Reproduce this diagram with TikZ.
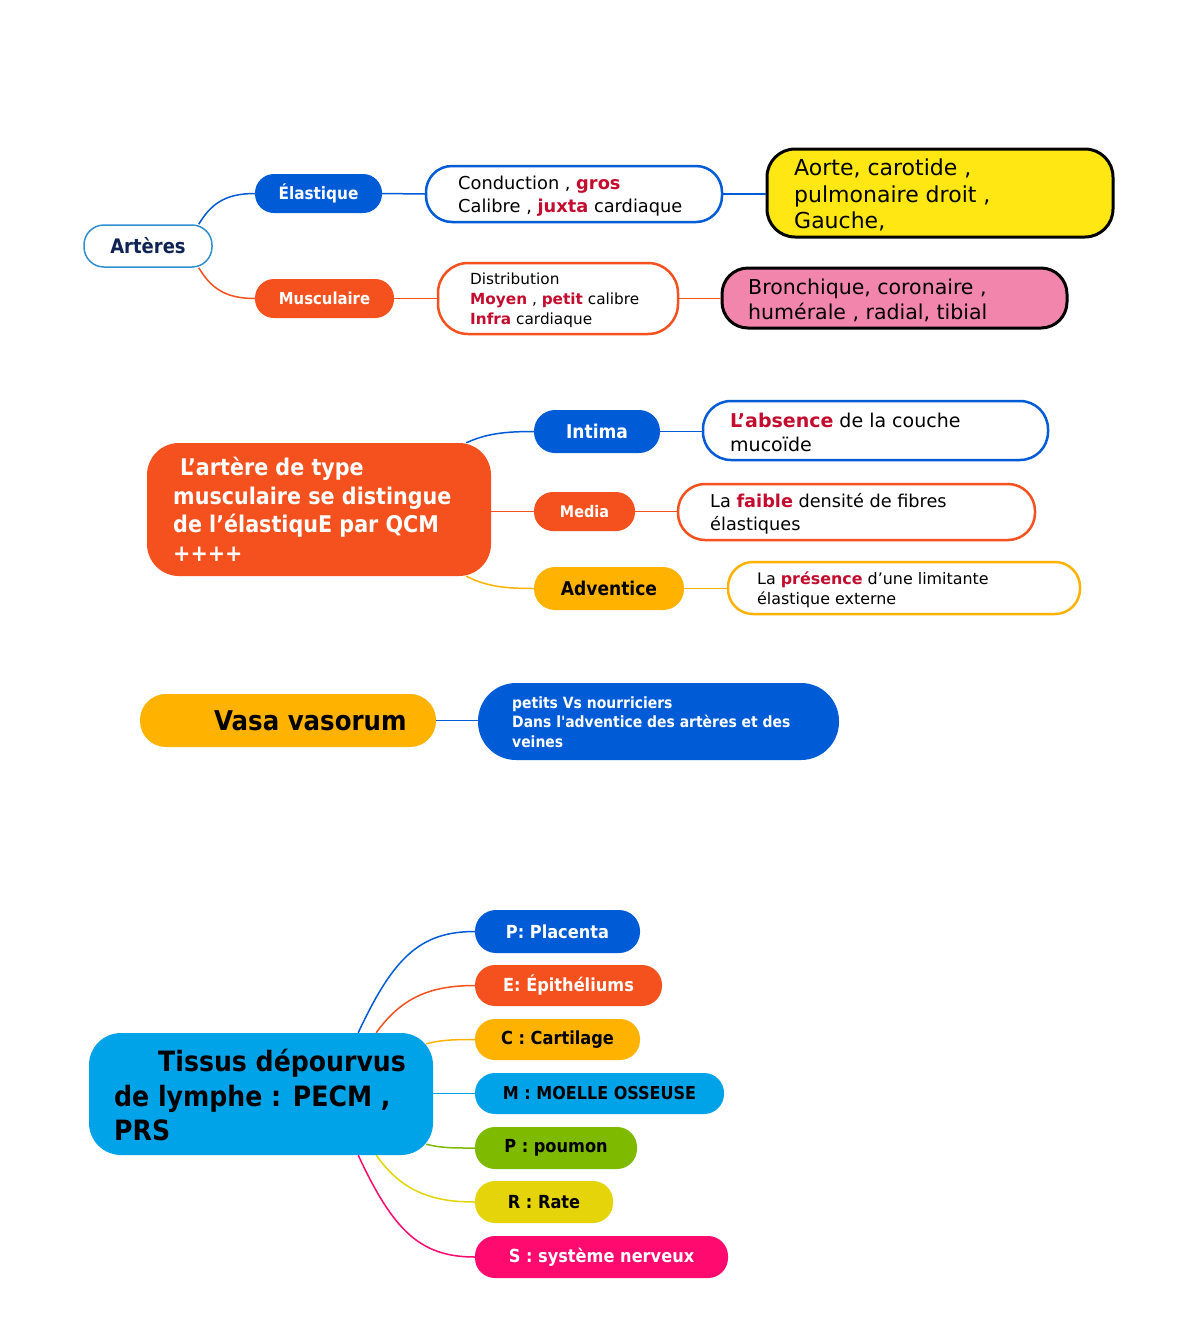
\documentclass[tikz,border=0pt]{standalone}
\usepackage{fontspec}
\setmainfont{DejaVu Sans}
\newfontfamily\cnd{DejaVu Sans Condensed}
\definecolor{cblue}{HTML}{005BD6}
\definecolor{corange}{HTML}{F5511E}
\definecolor{camber}{HTML}{FFB300}
\definecolor{ccyan}{HTML}{00A3E8}
\definecolor{cgreen}{HTML}{7EBA00}
\definecolor{cyel}{HTML}{E6D40A}
\definecolor{cpink}{HTML}{FF0A6E}
\definecolor{byel}{HTML}{FFE714}
\definecolor{bpink}{HTML}{F285AC}
\definecolor{rd}{HTML}{C40C2E}
\definecolor{navy}{HTML}{0F2355}
\definecolor{artb}{HTML}{2F8FD0}
\newcommand\redb[1]{\textcolor{rd}{\bfseries #1}}
\tikzset{
  wb/.style={draw, rectangle, fill=white, rounded corners=20pt, line width=2.5pt, inner sep=0pt},
  pill/.style={rectangle, rounded corners=19pt, inner sep=0pt, font=\cnd\bfseries\fontsize{18}{20}\selectfont},
  tx/.style={anchor=west, align=left, inner sep=0pt},
  conn/.style={line width=1.5pt}
}
\begin{document}
\begin{tikzpicture}[x=1pt,y=-1pt]
\fill[white] (0,0) rectangle (1200,1318);
\useasboundingbox (0,0) rectangle (1200,1318);

% ---------- Section 1
\node[wb, draw=artb, line width=1.5pt, minimum width=128, minimum height=42, text=navy, font=\cnd\bfseries\fontsize{20}{22}\selectfont] (art) at (148,246) {Artères};
\node[pill, fill=cblue, text=white, minimum width=127, minimum height=39, font=\cnd\bfseries\fontsize{17}{20}\selectfont] (ela) at (318.5,193.5) {Élastique};
\node[pill, fill=corange, text=white, minimum width=139, minimum height=39, font=\cnd\bfseries\fontsize{16.5}{20}\selectfont] (mus) at (324.5,298.5) {Musculaire};
\node[wb, draw=cblue, minimum width=296, minimum height=56, rounded corners=26pt] (cond) at (574,194) {};
\node[tx, font=\fontsize{17.8}{23}\selectfont] (tcond) at (458,196.5) {Conduction , \redb{gros}\\Calibre , \redb{juxta} cardiaque};
\node[wb, draw=corange, minimum width=240, minimum height=71, rounded corners=30pt] (dist) at (558,298.5) {};
\node[tx, font=\fontsize{15.3}{20}\selectfont] (tdist) at (470,300) {Distribution\\\redb{Moyen} , \redb{petit} calibre\\\redb{Infra} cardiaque};
\node[wb, draw=black, fill=byel, line width=3pt, minimum width=346, minimum height=88, rounded corners=28pt] (yel) at (940,193) {};
\node[tx, font=\fontsize{22}{26.5}\selectfont] (tyel) at (794,195) {Aorte, carotide ,\\pulmonaire droit ,\\Gauche,};
\node[wb, draw=black, fill=bpink, line width=3pt, minimum width=345, minimum height=60, rounded corners=26pt] (pink) at (894.5,298) {};
\node[tx, font=\fontsize{20.5}{25}\selectfont] (tpink) at (748,300) {Bronchique, coronaire ,\\humérale , radial, tibial};

\draw[conn, cblue] ([xshift=-14]art.north east) .. controls +(12,-20) and +(-30,0) .. (ela.west);
\draw[conn, corange] ([xshift=-14]art.south east) .. controls +(12,20) and +(-30,0) .. (mus.west);
\draw[conn, cblue] (ela.east) -- (cond.west);
\draw[conn, cblue] (cond.east) -- (cond.east -| yel.west);
\draw[conn, corange] (mus.east) -- (dist.west);
\draw[conn, corange] (dist.east) -- (dist.east -| pink.west);

% ---------- Section 2
\node[rectangle, fill=corange, rounded corners=32pt, minimum width=344, minimum height=133] (big) at (319,509.5) {};
\node[tx, text=white, font=\cnd\bfseries\fontsize{23}{28.5}\selectfont] (tbig) at (173,509.5) {\hspace*{7pt}L’artère de type\\musculaire se distingue\\de l’élastiquE par QCM\\++++};
\node[pill, fill=cblue, text=white, minimum width=126, minimum height=43, rounded corners=21pt, font=\cnd\bfseries\fontsize{19}{22}\selectfont] (int) at (597,431.5) {Intima};
\node[pill, fill=corange, text=white, minimum width=101, minimum height=39, font=\cnd\bfseries\fontsize{16}{20}\selectfont] (med) at (584.5,511.5) {Media};
\node[pill, fill=camber, text=black, minimum width=150, minimum height=43, rounded corners=21pt, font=\cnd\bfseries\fontsize{19}{22}\selectfont] (adv) at (609,588.5) {Adventice};
\node[wb, draw=cblue, minimum width=345, minimum height=59, rounded corners=28pt] (abs) at (875.5,430.5) {};
\node[tx, font=\fontsize{19}{24}\selectfont] (tabs) at (730,432) {\redb{L’absence} de la couche\\mucoïde};
\node[wb, draw=corange, minimum width=357, minimum height=56, rounded corners=27pt] (fai) at (856.5,512) {};
\node[tx, font=\fontsize{17.7}{23}\selectfont] (tfai) at (710,514) {La \redb{faible} densité de fibres\\élastiques};
\node[wb, draw=camber, minimum width=352, minimum height=52, rounded corners=25pt] (pre) at (904,588) {};
\node[tx, font=\fontsize{15.9}{20}\selectfont] (tpre) at (757,589.5) {La \redb{présence} d’une limitante\\élastique externe};

\draw[conn, cblue] ([xshift=-25]big.north east) .. controls +(20,-9) and +(-30,0) .. (int.west);
\draw[conn, corange] (big.east |- med.west) -- (med.west);
\draw[conn, camber] ([xshift=-25]big.south east) .. controls +(20,10) and +(-30,0) .. (adv.west);
\draw[conn, cblue] (int.east) -- (int.east -| abs.west);
\draw[conn, corange] (med.east) -- (med.east -| fai.west);
\draw[conn, camber] (adv.east) -- (adv.east -| pre.west);

% ---------- Section 3
\node[rectangle, fill=camber, rounded corners=26pt, minimum width=296, minimum height=53] (vasa) at (288,720.5) {};
\node[tx, font=\cnd\bfseries\fontsize{27.2}{32}\selectfont] (tvasa) at (214,721) {Vasa vasorum};
\node[rectangle, fill=cblue, rounded corners=38pt, minimum width=361, minimum height=77] (vbl) at (658.5,721.5) {};
\node[tx, text=white, font=\cnd\bfseries\fontsize{15.5}{19.5}\selectfont] (tvbl) at (512,722) {petits Vs nourriciers\\Dans l'adventice des artères et des\\veines};
\draw[conn, cblue] (vasa.east) -- (vasa.east -| vbl.west);

% ---------- Section 4
\node[rectangle, fill=ccyan, rounded corners=32pt, minimum width=344, minimum height=122] (tis) at (261,1094) {};
\node[tx, font=\cnd\bfseries\fontsize{28}{34.5}\selectfont] (ttis) at (114,1095) {\hspace*{44pt}Tissus dépourvus\\de lymphe : PECM ,\\PRS};
\node[pill, fill=cblue, text=white, minimum width=165, minimum height=43, rounded corners=21pt] (pl) at (557.5,931.5) {P: Placenta};
\node[pill, fill=corange, text=white, minimum width=187, minimum height=41, rounded corners=20pt] (ep) at (568.5,985.5) {E: Épithéliums};
\node[pill, fill=camber, text=black, minimum width=165, minimum height=41, rounded corners=20pt] (ca) at (557.5,1039.5) {C : Cartilage};
\node[pill, fill=ccyan, text=black, minimum width=249, minimum height=41, rounded corners=20pt, font=\cnd\bfseries\fontsize{17.8}{20}\selectfont] (mo) at (599.5,1093.5) {M : MOELLE OSSEUSE};
\node[pill, fill=cgreen, text=black, minimum width=162, minimum height=42, rounded corners=20pt] (po) at (556,1148) {P : poumon};
\node[pill, fill=cyel, text=black, minimum width=138, minimum height=42, rounded corners=20pt] (ra) at (544,1202) {R : Rate};
\node[pill, fill=cpink, text=white, minimum width=253, minimum height=42, rounded corners=20pt] (sy) at (601.5,1257) {S : système nerveux};

\draw[conn, cblue] ([xshift=-75]tis.north east) .. controls +(35,-75) and +(-55,0) .. (pl.west);
\draw[conn, corange] ([xshift=-57]tis.north east) .. controls +(25,-35) and +(-45,0) .. (ep.west);
\draw[conn, camber] ([xshift=-7,yshift=-11]tis.north east) .. controls +(15,-4) and +(-20,0) .. (ca.west);
\draw[conn, ccyan] (tis.east |- mo.west) -- (mo.west);
\draw[conn, cgreen] ([xshift=-7,yshift=11]tis.south east) .. controls +(15,4) and +(-20,0) .. (po.west);
\draw[conn, cyel] ([xshift=-57]tis.south east) .. controls +(25,35) and +(-45,0) .. (ra.west);
\draw[conn, cpink] ([xshift=-75]tis.south east) .. controls +(35,75) and +(-55,0) .. (sy.west);
\end{tikzpicture}
\end{document}
